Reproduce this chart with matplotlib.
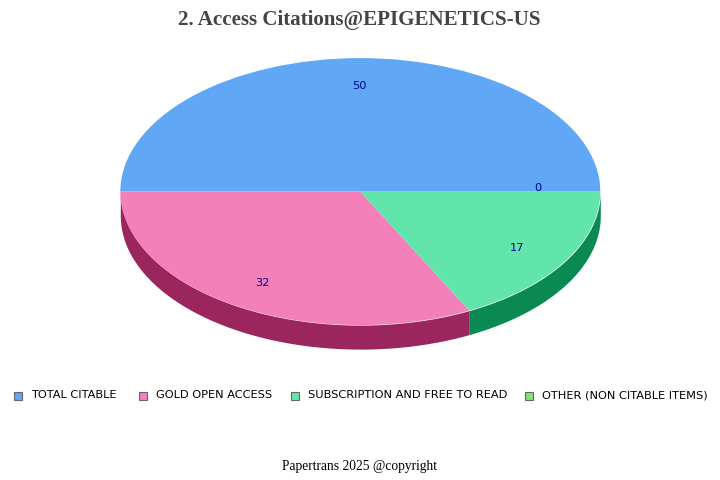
import numpy as np
from matplotlib import pyplot as plt
from matplotlib.patches import Rectangle

categories = ['TOTAL CITABLE', 'GOLD OPEN ACCESS', 'SUBSCRIPTION AND FREE TO READ', 'OTHER (NON CITABLE ITEMS)']
values = [50, 32.5, 17.5, 0]
labels = ['50', '32', '17', '0']
colors = ['#60a8f5', '#f480bb', '#62e5ab', '#7be57b']
side_colors = ['#2a6cb0', '#9b255d', '#0a8a52', '#3f9f3f']

W, H = 720, 480
cx, cy = 360.3, 191.6
rx, ry = 240, 133.5
depth = 24 / ry

fig = plt.figure(figsize=(W / 100, H / 100), dpi=100)
ax = fig.add_axes([0, 0, 1, 1])

# side wall first, only the part of each slice facing the viewer
angles = np.cumsum([0] + values) / sum(values) * 2 * np.pi
for i in range(len(values)):
    a0 = max(angles[i], np.pi)
    a1 = angles[i + 1]
    if a1 <= a0:
        continue
    t = np.linspace(a0, a1, 200)
    ax.fill_between(np.cos(t), np.sin(t), np.sin(t) - depth, color=side_colors[i], lw=0)

wedges, _ = ax.pie(values, colors=colors, startangle=0, counterclock=True, radius=1,
                   wedgeprops={'linewidth': 0})

# labels sit about 3/4 of the way out
for i, lab in enumerate(labels):
    mid = (angles[i] + angles[i + 1]) / 2
    if values[i] > 0:
        x, y = np.cos(mid) * 0.77 - 1 / rx, np.sin(mid) * 0.795 - 1 / ry
    else:
        x, y = np.cos(mid) * 0.74, 0.03
    ax.text(x, y, lab, color='#000090', fontsize=8.2, ha='center', va='center')

ax.set_aspect('auto')
ax.set_xlim(-cx / rx, (W - cx) / rx)
ax.set_ylim(-(H - cy) / ry, cy / ry)
ax.axis('off')

# legend by hand, the columns in the original are not evenly spread
legend_x = [14, 139, 291, 525]
for x0, name, c in zip(legend_x, categories, colors):
    fig.add_artist(Rectangle((x0 / W, 1 - 400 / H), 8 / W, 8 / H, transform=fig.transFigure,
                             facecolor=c, edgecolor='#666666', linewidth=0.8))
    fig.text((x0 + 17.5) / W, 1 - 398.5 / H, name, fontsize=8.2, color='black', va='baseline')

fig.text(359 / W, 1 - 19.5 / H, '2. Access Citations@EPIGENETICS-US', family='Liberation Serif',
         weight='bold', size=15.1, color='#444444', ha='center', va='center')
fig.text(359.5 / W, 1 - 466.5 / H, 'Papertrans 2025 @copyright', family='Liberation Serif',
         size=9.75, color='black', ha='center', va='center')

fig.savefig('out.png', dpi=100)
